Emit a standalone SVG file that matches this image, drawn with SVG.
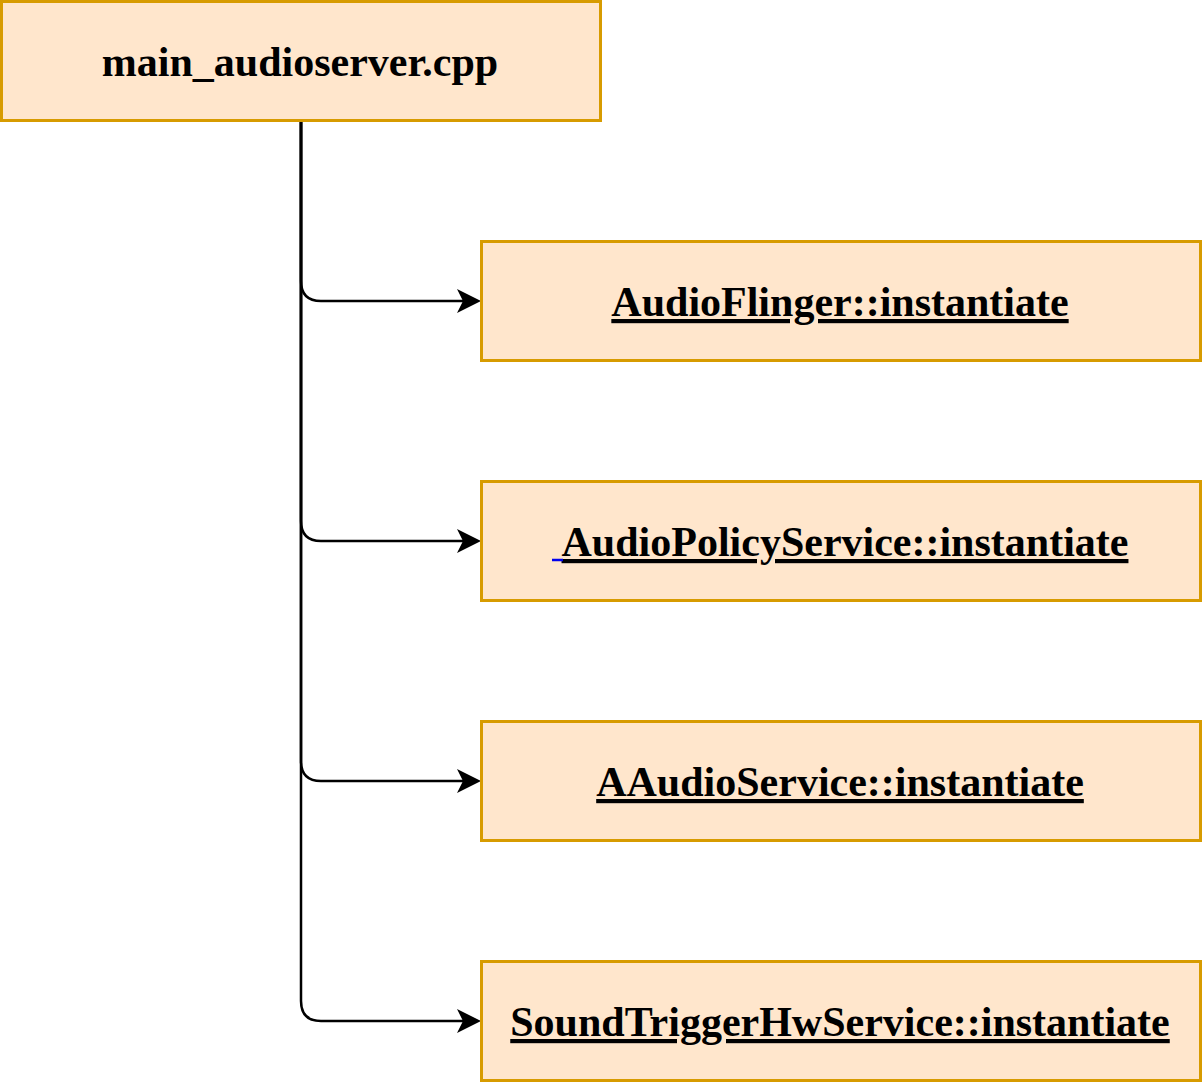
<svg xmlns="http://www.w3.org/2000/svg" width="1203" height="1083" viewBox="0 0 1203 1083">
<style>
.box{fill:#ffe6cc;stroke:#d79b00;stroke-width:3}
.t{font-family:"Liberation Serif",serif;font-weight:bold;font-size:42px;text-anchor:middle;fill:#000}
.u{text-decoration:underline}
.c{fill:none;stroke:#000;stroke-width:2.5}
.h{fill:#000}
</style>
<rect width="1203" height="1083" fill="#fff"/>
<g id="connectors">
<path class="c" d="M301,121 V281 Q301,301 321,301 H469"/>
<path class="c" d="M301,121 V521 Q301,541 321,541 H469"/>
<path class="c" d="M301,121 V761 Q301,781 321,781 H469"/>
<path class="c" d="M301,121 V1001 Q301,1021 321,1021 H469"/>
<path class="h" d="M457,289 L481,301 L457,313 L463,301 Z"/>
<path class="h" d="M457,529 L481,541 L457,553 L463,541 Z"/>
<path class="h" d="M457,769 L481,781 L457,793 L463,781 Z"/>
<path class="h" d="M457,1009 L481,1021 L457,1033 L463,1021 Z"/>
</g>
<g id="main"><rect class="box" x="1.5" y="1.5" width="599" height="119"/><text class="t" x="300" y="76">main_audioserver.cpp</text></g>
<g id="af"><rect class="box" x="481.5" y="241.5" width="719" height="119"/><text class="t u" x="840" y="316">AudioFlinger::instantiate</text></g>
<g id="aps"><rect class="box" x="481.5" y="481.5" width="719" height="119"/><text class="t u" x="845" y="556">AudioPolicyService::instantiate</text><line x1="552" y1="560" x2="563" y2="560" stroke="#0000ee" stroke-width="2.5"/></g>
<g id="aas"><rect class="box" x="481.5" y="721.5" width="719" height="119"/><text class="t u" x="840" y="796">AAudioService::instantiate</text></g>
<g id="st"><rect class="box" x="481.5" y="961.5" width="719" height="119"/><text class="t u" x="840" y="1036">SoundTriggerHwService::instantiate</text></g>
</svg>
